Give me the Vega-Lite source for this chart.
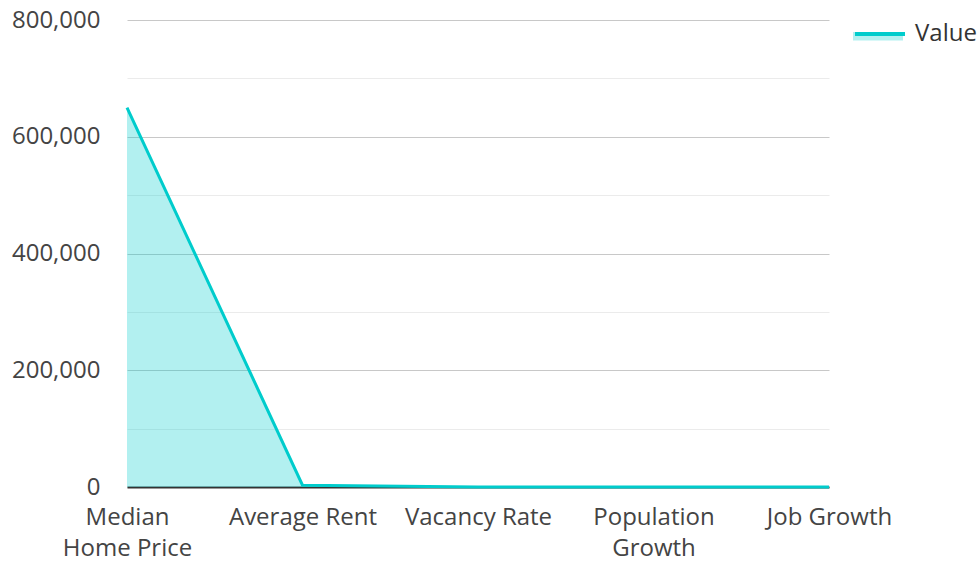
{
  "$schema": "https://vega.github.io/schema/vega-lite/v6.json",
  "width": 702,
  "height": 467,
  "autosize": "none",
  "padding": {"left": 127, "top": 20, "right": 149, "bottom": 74},
  "background": "white",
  "config": {
    "view": {"stroke": null},
    "font": "Open Sans"
  },
  "data": {
    "values": [
      {"metric": "Median Home Price", "value": 650000, "series": "Value"},
      {"metric": "Average Rent", "value": 3000, "series": "Value"},
      {"metric": "Vacancy Rate", "value": 5, "series": "Value"},
      {"metric": "Population Growth", "value": 2, "series": "Value"},
      {"metric": "Job Growth", "value": 3, "series": "Value"}
    ]
  },
  "encoding": {
    "x": {
      "field": "metric",
      "type": "ordinal",
      "sort": null,
      "scale": {"type": "point", "padding": 0},
      "axis": {
        "title": null,
        "labelAngle": 0,
        "labelFontSize": 24,
        "labelColor": "#444444",
        "labelPadding": 18,
        "labelLineHeight": 31,
        "labelExpr": "datum.label == 'Median Home Price' ? ['Median', 'Home Price'] : datum.label == 'Population Growth' ? ['Population', 'Growth'] : datum.label",
        "ticks": false,
        "domainColor": "#333333",
        "domainWidth": 2,
        "grid": false,
        "labelBaseline": "top",
        "labelOverlap": false,
        "labelBound": false,
        "labelFlush": false
      }
    },
    "y": {
      "field": "value",
      "type": "quantitative",
      "scale": {"domain": [0, 800000]},
      "axis": {
        "title": null,
        "values": [0, 100000, 200000, 300000, 400000, 500000, 600000, 700000, 800000],
        "labelExpr": "datum.value % 200000 === 0 ? format(datum.value, ',') : ''",
        "labelFontSize": 24,
        "labelColor": "#444444",
        "labelPadding": 27,
        "ticks": false,
        "domain": false,
        "labelOverlap": false,
        "labelBound": false,
        "labelFlush": false,
        "gridColor": {"condition": {"test": "datum.value % 200000 === 0", "value": "#c8c8c8"}, "value": "#ebebeb"},
        "gridWidth": 1
      }
    }
  },
  "layer": [
    {
      "mark": {"type": "area", "opacity": 0.3, "interpolate": "linear"},
      "encoding": {
        "fill": {
          "field": "series",
          "type": "nominal",
          "scale": {"range": ["#00CCCC"]},
          "legend": {
            "title": null,
            "orient": "none",
            "legendX": 726,
            "legendY": -13,
            "symbolType": "M-1,0L1,0L1,0.34L-1,0.34Z",
            "symbolSize": 2500,
            "symbolOpacity": 0.3,
            "symbolStrokeWidth": 0,
            "labelFontSize": 24,
            "labelExpr": "''",
            "labelOffset": 8
          }
        }
      }
    },
    {
      "mark": {"type": "line", "strokeWidth": 3},
      "encoding": {
        "stroke": {
          "field": "series",
          "type": "nominal",
          "scale": {"range": ["#00CCCC"]},
          "legend": {
            "title": null,
            "orient": "none",
            "legendX": 726,
            "legendY": -13,
            "symbolType": "stroke",
            "symbolSize": 2500,
            "symbolStrokeWidth": 4,
            "symbolOpacity": 1,
            "labelFontSize": 24,
            "labelColor": "#333333",
            "labelOffset": 8
          }
        }
      }
    }
  ],
  "resolve": {"legend": {"fill": "independent", "stroke": "independent"}}
}
